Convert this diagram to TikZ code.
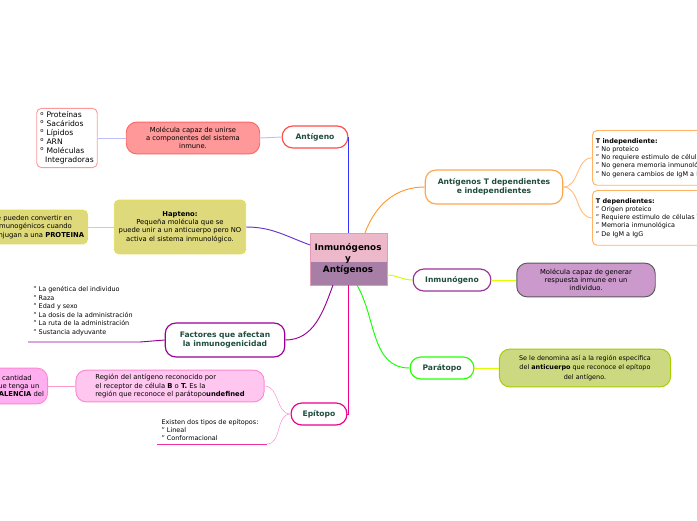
\documentclass[tikz,border=0pt]{standalone}
\usepackage{fontspec}
\setmainfont{DejaVu Sans}
\usetikzlibrary{positioning}
\definecolor{ttl}{HTML}{1F4E3D}
\begin{document}
\begin{tikzpicture}[x=0.03cm,y=-0.03cm,thick,
    main node/.style={rounded corners=9pt,draw,fill=white,font=\fontsize{6.5}{8}\selectfont\bfseries,
                      text=ttl,align=center,line width=1pt},
    note node/.style={rounded corners=9pt,draw,align=center,font=\fontsize{5.8}{7}\selectfont,
                      inner sep=3pt},
    box node/.style={rounded corners=4pt,draw,fill=white,align=left,font=\fontsize{5.5}{7}\selectfont,
                     line width=0.8pt,inner sep=3pt},
    plain node/.style={align=left,font=\fontsize{5.5}{7.2}\selectfont,inner sep=1pt}
                           ]
   \useasboundingbox (0,0) rectangle (697,520);
   % centre
   \fill[violet!20!pink!70] (310,233) rectangle (387,262);
   \fill[violet!45!gray!70] (310,262) rectangle (387,285);
   \draw[pink!80!violet,line width=0.8pt] (310,233) rectangle (387,285);
   \node[font=\fontsize{7.5}{9.5}\selectfont\bfseries,align=center] (c) at (348,259) {Inmunógenos\\y\\Antígenos};
   \coordinate (ct) at (348,233);
   \coordinate (cb) at (348,285);
   % left side
   \node[main node,draw=red!70,minimum width=66pt*0.85,minimum height=22pt*0.85] (ag) at (315,137) {Antígeno};
   \node[note node,draw=red!60,fill=red!40,minimum width=134pt*0.85,minimum height=32pt*0.85] (ag1) at (193,138)
        {Molécula capaz de unirse\\a componentes del sistema\\inmune.};
   \node[box node,draw=red!40,font=\fontsize{6.5}{7.6}\selectfont] (ag2) at (67,138)
        {\textsuperscript{o} Proteínas\\\textsuperscript{o} Sacáridos\\\textsuperscript{o} Lípidos\\\textsuperscript{o} ARN\\\textsuperscript{o} Moléculas\\\ \ Integradoras};
   \node[note node,draw=yellow!60!olive!60,fill=yellow!35!olive!45,rounded corners=4pt,
         minimum width=132pt*0.85,minimum height=54pt*0.85] (hp) at (180,227)
        {\textbf{Hapteno:}\\Pequeña molécula que se\\puede unir a un anticuerpo pero NO\\activa el sistema inmunológico.};
   \node[note node,draw=yellow!60!olive!60,fill=yellow!35!olive!45,rounded corners=4pt,anchor=east,
         minimum height=34pt*0.85] (hp1) at (88,227)
        {Se pueden convertir en\\inmunogénicos cuando\\se conjugan a una \textbf{PROTEINA}};
   \node[main node,draw=violet!80!magenta,minimum width=120pt*0.85,minimum height=34pt*0.85] (fa) at (225,340)
        {Factores que afectan\\la inmunogenicidad};
   \node[plain node] (fa1) at (83,311)
        {" La genética del individuo\\" Raza\\" Edad y sexo\\" La dosis de la administración\\" La ruta de la administración\\" Sustancia adyuvante};
   \coordinate (fal) at (28,342);
   \coordinate (far) at (140,342);
   \node[main node,draw=magenta,minimum width=56pt*0.85,minimum height=22pt*0.85] (ep) at (319,414) {Epítopo};
   \node[note node,draw=pink!70!magenta,fill=pink!60!magenta!40,align=left,minimum width=189pt*0.85,
         minimum height=32pt*0.85] (ep1) at (170,386)
        {Región del antígeno reconocido por\\el receptor de célula \textbf{B} o \textbf{T.} Es la\\región que reconoce el parátopo\textbf{undefined}};
   \node[note node,draw=pink!70!magenta,fill=pink!50!magenta!50,anchor=east,align=left,
         minimum height=36pt*0.85] (ep2) at (48,386)
        {la cantidad\\que tenga un\\\textbf{VALENCIA} del};
   \node[plain node] (ep3) at (210,430)
        {Existen dos tipos de epítopos:\\" Lineal\\" Conformacional};
   \coordinate (epl) at (157,444);
   \coordinate (epr) at (267,444);
   % right side
   \node[main node,draw=orange!70,minimum width=138pt*0.85,minimum height=34pt*0.85] (td) at (494,187)
        {Antígenos T dependientes\\e independientes};
   \node[box node,draw=orange!60,anchor=north west,minimum height=55pt*0.85,text width=130pt] (td1) at (592,130)
        {\textbf{T independiente:}\\" No proteico\\" No requiere estimulo de células\\" No genera memoria inmunológica\\" No genera cambios de IgM a IgG};
   \node[box node,draw=orange!60,anchor=north west,minimum height=55pt*0.85,text width=130pt] (td2) at (592,190)
        {\textbf{T dependientes:}\\" Origen proteico\\" Requiere estimulo de células T\\" Memoria inmunológica\\" De IgM a IgG};
   \node[main node,draw=violet!80,minimum width=78pt*0.85,minimum height=22pt*0.85] (in) at (452,280) {Inmunógeno};
   \node[note node,draw=gray!70!black,fill=violet!40!white,minimum width=139pt*0.85,minimum height=34pt*0.85] (in1) at (586,280)
        {Molécula capaz de generar\\respuesta inmune en un\\individuo.};
   \node[main node,draw=green!80!lime,minimum width=64pt*0.85,minimum height=22pt*0.85] (pa) at (442,368) {Parátopo};
   \node[note node,draw=lime!60!olive,fill=lime!40!olive!50,minimum width=172pt*0.85,minimum height=38pt*0.85,
         font=\fontsize{5.5}{8}\selectfont] (pa1) at (585,368)
        {Se le denomina así a la región específica\\del \textbf{anticuerpo} que reconoce el epítopo\\del antígeno.};
   % connectors
   \draw[blue!80] (ct) |- (ag.east);
   \draw[blue!25] (ag.west) -- (ag1.east);
   \draw[blue!25] (ag1.west) -- (ag2.east);
   \draw[blue!50!violet!80] (hp.east) to[out=0,in=160] (c.west |- 0,245);
   \draw[violet!25] (hp.west) -- (hp1.east);
   \draw[violet!80!magenta] (fa.east) to[out=0,in=250] (333,285);
   \draw[violet!80!magenta] (fal) -- (far) -- (fa.west);
   \draw[magenta] (cb) |- (ep.east);
   \draw[pink!70!magenta,thin] (ep.west) to[out=180,in=0] (ep1.east);
   \draw[pink!70!magenta,thin] (ep.west) to[out=180,in=0] (epr);
   \draw[magenta!80] (epl) -- (epr);
   \draw[pink!80!magenta] (ep1.west) -- (ep2.east);
   \draw[orange!80] (365,233) to[out=70,in=180] (td.west);
   \draw[orange!50] (td.east) to[out=0,in=180] (td1.west);
   \draw[orange!50] (td.east) to[out=0,in=180] (td2.west);
   \draw[lime!80!yellow] (387,275) to[out=0,in=180] (in.west);
   \draw[lime!50!yellow] (in.east) -- (in1.west);
   \draw[green!90!lime] (357,285) to[out=-60,in=180] (pa.west);
   \draw[lime!60!yellow] (pa.east) -- (pa1.west);
      \end{tikzpicture}
\end{document}
